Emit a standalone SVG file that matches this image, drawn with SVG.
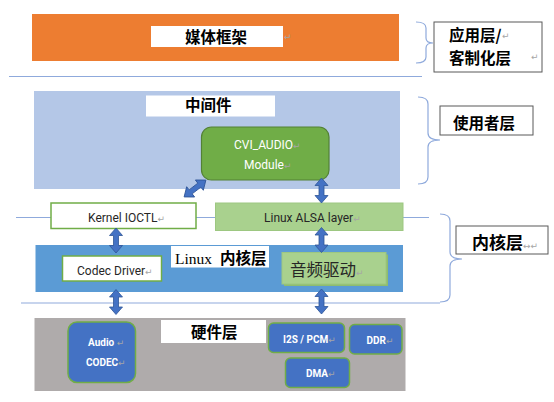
<svg xmlns="http://www.w3.org/2000/svg" width="554" height="402" viewBox="0 0 554 402">
<style>
.cn{font-family:"Noto Sans CJK SC","Noto Sans",sans-serif;font-weight:700;fill:#000}
.en{font-family:Roboto,"Liberation Sans",sans-serif;font-size:12px;fill:#262626}
.rm{font-family:"DejaVu Sans",sans-serif;font-size:9px;fill:#A6A6A6;font-weight:400}
.sep{stroke:#8FAADC;stroke-width:1.2;fill:none}
.brace{stroke:#8FAADC;stroke-width:1.2;fill:none}
.lbl{fill:#fff}
.side{fill:#fff;stroke:#595959;stroke-width:1}
.gbox{fill:#fff;stroke:#70AD47;stroke-width:1.5}
.arr{fill:#4472C4;stroke:#2F5597;stroke-width:0.8}
.hw{fill:#4472C4;stroke:#70AD47;stroke-width:1.5}
.hwt{font-family:Roboto,"Liberation Sans",sans-serif;font-size:10px;fill:#fff;font-weight:700}
</style>
<defs>
<path id="dar" d="M0,-12.5 L6.5,-5 L2.5,-5 L2.5,5 L6.5,5 L0,12.5 L-6.5,5 L-2.5,5 L-2.5,-5 L-6.5,-5 Z"/>
</defs>
<rect width="554" height="402" fill="#fff"/>

<g id="separators">
<line class="sep" x1="9" y1="76.5" x2="422" y2="76.5"/>
<line class="sep" x1="16" y1="217.5" x2="429" y2="217.5"/>
<line class="sep" x1="21" y1="303" x2="440" y2="303"/>
<path class="brace" d="M416,22 Q426,22 426,28 L426,38 Q426,43 433,43 Q426,43 426,48 L426,57 Q426,63 416,63"/>
<path class="brace" d="M418,97 Q428,97 428,104 L428,133 Q428,140 440,140 Q428,140 428,147 L428,177 Q428,184 418,184"/>
<path class="brace" d="M440,214 Q450,214 450,221 L450,252 Q450,259 462,259 Q450,259 450,266 L450,295 Q450,302 440,302"/>
</g>

<g id="media-framework">
<rect x="32" y="14" width="367" height="47" fill="#ED7D31"/>
<rect class="lbl" x="151" y="26" width="132" height="21"/>
<text class="cn" x="185" y="43" font-size="15.5">媒体框架</text>
<text class="rm" x="284" y="40">↵</text>
</g>

<g id="app-layer">
<rect class="side" x="434" y="22" width="108" height="50"/>
<text class="cn" x="449" y="41" font-size="15.5">应用层/</text>
<text class="rm" x="502" y="39">↵</text>
<text class="cn" x="449" y="64" font-size="15.5">客制化层</text>
<text class="rm" x="531" y="60">↵</text>
</g>

<g id="middleware">
<rect x="34" y="91" width="366" height="98" fill="#B4C7E7"/>
<rect class="lbl" x="146" y="95.5" width="129" height="21"/>
<text class="cn" x="185" y="111" font-size="15.5">中间件</text>
</g>

<g id="user-layer">
<rect class="side" x="440" y="106" width="93" height="29"/>
<text class="cn" x="453" y="129" font-size="15.5">使用者层</text>
</g>

<g id="cvi-audio">
<rect x="201.5" y="127" width="127.5" height="53" rx="10" fill="#70AD47" stroke="#538135" stroke-width="1.2"/>
<text class="en" x="234" y="149" style="fill:#fff">CVI_AUDIO<tspan class="rm">↵</tspan></text>
<text class="en" x="244" y="169" style="fill:#fff">Module<tspan class="rm">↵</tspan></text>
</g>

<g id="kernel-ioctl">
<rect class="gbox" x="51" y="203" width="145" height="25.5"/>
<text class="en" x="88" y="222">Kernel IOCTL<tspan class="rm">↵</tspan></text>
</g>

<g id="alsa">
<rect x="215.5" y="203" width="187.5" height="27.5" fill="#A9D18E" stroke="#9DC781" stroke-width="1"/>
<text class="en" x="264" y="222">Linux ALSA layer<tspan class="rm">↵</tspan></text>
</g>

<g id="kernel">
<rect x="35.5" y="245" width="367.5" height="47" fill="#5B9BD5"/>
<rect class="lbl" x="171" y="246" width="98" height="21.5"/>
<text x="175" y="264" font-family="'Liberation Serif',serif" font-size="15.5" fill="#000">Linux</text>
<text class="cn" x="220" y="264" font-size="15.5">内核层</text>
</g>

<g id="codec-driver">
<rect class="gbox" x="62.5" y="256" width="99" height="25"/>
<text class="en" x="77" y="275">Codec Driver<tspan class="rm">↵</tspan></text>
</g>

<g id="audio-driver">
<rect x="284" y="254.5" width="104" height="31.5" fill="#8FBC6F"/>
<rect x="282" y="252.5" width="104" height="31.5" fill="#A9D18E" stroke="#9DC781" stroke-width="1"/>
<text class="cn" x="290" y="276" font-size="16.5" style="font-weight:400;fill:#262626">音频驱动<tspan class="rm">↵</tspan></text>
</g>

<g id="kernel-layer">
<rect class="side" x="456" y="226" width="92" height="28"/>
<text class="cn" x="472" y="249" font-size="17">内核层<tspan class="rm">↔↵</tspan></text>
</g>

<g id="hardware">
<rect x="34.5" y="318" width="371" height="73" fill="#AFABAB"/>
<rect class="lbl" x="161" y="320" width="105" height="23"/>
<text class="cn" x="191" y="338" font-size="15.5">硬件层</text>
</g>

<g id="audio-codec">
<rect class="hw" x="68" y="322" width="67.5" height="60.5" rx="9"/>
<text class="hwt" x="88" y="346">Audio <tspan class="rm">↵</tspan></text>
<text class="hwt" x="86" y="366">CODEC<tspan class="rm">↵</tspan></text>
</g>

<g id="i2s-pcm">
<rect class="hw" x="268.5" y="323" width="76" height="29.5" rx="5"/>
<text class="hwt" x="283" y="343">I2S / PCM<tspan class="rm">↵</tspan></text>
</g>

<g id="ddr">
<rect class="hw" x="349.5" y="324.5" width="52.5" height="29.5" rx="5"/>
<text class="hwt" x="366.5" y="344">DDR<tspan class="rm">↵</tspan></text>
</g>

<g id="dma">
<rect class="hw" x="285.5" y="358" width="64" height="29.5" rx="5"/>
<text class="hwt" x="306" y="377">DMA<tspan class="rm">↵</tspan></text>
</g>

<g id="connectors">
<use href="#dar" class="arr" transform="translate(116,240.5)"/>
<use href="#dar" class="arr" transform="translate(116,302)"/>
<use href="#dar" class="arr" transform="translate(321.5,190.5)"/>
<use href="#dar" class="arr" transform="translate(321.5,240)"/>
<use href="#dar" class="arr" transform="translate(321.5,301.5)"/>
<use href="#dar" class="arr" transform="translate(195,188.5) rotate(52.3) scale(1,1.1)"/>
</g>
</svg>
